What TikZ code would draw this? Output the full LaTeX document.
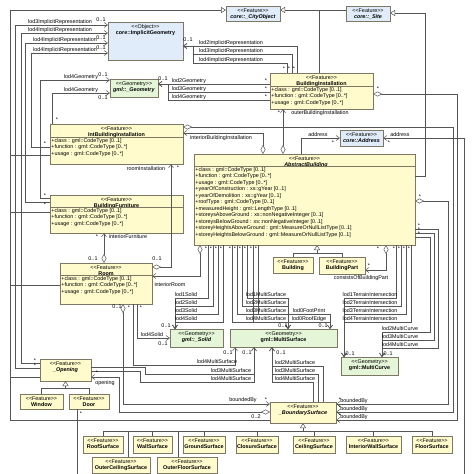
\documentclass[tikz,border=0pt]{standalone}
\usepackage{fontspec}
\setmainfont{Liberation Sans}
\usepackage{xcolor}
\usepackage{tikz}
\usetikzlibrary{arrows.meta}
\usetikzlibrary{calc}

\definecolor{featfill}{RGB}{255,251,204}
\definecolor{objfill}{RGB}{224,236,250}
\definecolor{geomfill}{RGB}{229,245,216}
\definecolor{boxline}{RGB}{125,120,100}
\definecolor{linecol}{RGB}{85,85,85}

\tikzset{
  classbox/.style={draw=boxline,line width=0.5pt,anchor=north west,inner sep=0pt,outer sep=0pt},
  txt/.style={inner sep=0pt,font=\fontsize{5.4}{6.5}\selectfont},
  conn/.style={draw=linecol,line width=0.5pt},
  nav/.style={conn,-{Straight Barb[length=3.5pt,width=5pt]}},
  gen/.style={conn,-{Triangle[open,length=5pt,width=6pt,fill=white]}},
  agg/.style={conn,{Diamond[open,length=9pt,width=5pt,fill=white]}-{Straight Barb[length=3.5pt,width=5pt]}}
}

\newcommand\stereo[1]{<{}<#1>{}>}
\newcommand\stdattr{+class : gml::CodeType [0..1]\\+function : gml::CodeType [0..*]\\+usage : gml::CodeType [0..*]}
\newcommand\umlclass[8]{%
  \node[classbox,fill=#6,minimum width={(#4-#2)*1pt},minimum height={(#5-#3)*1pt}] (#1) at (#2,#3) {};
  \node[txt] (#1-s) at ([yshift=-4.8pt]#1.north) {\stereo{#7}};
  \node[txt] (#1-n) at ([yshift=-10.8pt]#1.north) {#8};}
\newcommand\umlattr[3]{%
  \draw[boxline,line width=0.5pt] (#1.west |- 0,#2) -- (#1.east |- 0,#2);
  \node[txt,anchor=north west,align=left,xshift=1.2pt,yshift=-1.3pt] (#1-a) at (#1.west |- 0,#2) {#3};}

\begin{document}
\begin{tikzpicture}[x=1pt,y=-1pt]
\useasboundingbox (0,0) rectangle (474,474);

\umlclass{igeom}{108}{22}{183}{60}{objfill}{Object}{\textbf{core::ImplicitGeometry}}
\umlclass{cityobj}{226}{6}{280}{21}{objfill}{Feature}{\textbf{\textit{core::\_CityObject}}}
\umlclass{site}{346}{6}{390}{21}{objfill}{Feature}{\textbf{\textit{core::\_Site}}}
\umlclass{geom}{110}{79}{158}{97}{geomfill}{Geometry}{\textbf{\textit{gml::\_Geometry}}}
\umlclass{binst}{270}{73}{373}{109}{featfill}{Feature}{\textbf{BuildingInstallation}}
\umlattr{binst}{86}{\stdattr}
\umlclass{ibinst}{50}{124}{183}{164}{featfill}{Feature}{\textbf{IntBuildingInstallation}}
\umlattr{ibinst}{137}{\stdattr}
\umlclass{addr}{340}{130}{383}{146}{objfill}{Feature}{\textbf{\textit{core::Address}}}
\umlclass{abld}{194}{154}{415}{245}{featfill}{Feature}{\textbf{\textit{\_AbstractBuilding}}}
\umlattr{abld}{166}{\stdattr\\+yearOfConstruction : xs::gYear [0..1]\\+yearOfDemolition : xs::gYear [0..1]\\+roofType : gml::CodeType [0..1]\\+measuredHeight : gml::LengthType [0..1]\\+storeysAboveGround : xs::nonNegativeInteger [0..1]\\+storeysBelowGround : xs::nonNegativeInteger [0..1]\\+storeyHeightsAboveGround : gml::MeasureOrNullListType [0..1]\\+storeyHeightsBelowGround : gml::MeasureOrNullListType [0..1]}
\umlclass{furn}{50}{195}{183}{233}{featfill}{Feature}{\textbf{BuildingFurniture}}
\umlattr{furn}{207}{\stdattr}
\umlclass{room}{60}{263}{152}{304}{featfill}{Feature}{\textbf{Room}}
\umlattr{room}{275}{\stdattr}
\umlclass{bldg}{273}{257}{313}{273}{featfill}{Feature}{\textbf{Building}}
\umlclass{bpart}{319}{257}{365}{274}{featfill}{Feature}{\textbf{BuildingPart}}
\umlclass{solid}{170}{329}{223}{347}{geomfill}{Geometry}{\textbf{\textit{gml::\_Solid}}}
\umlclass{msurf}{230}{329}{337}{347}{geomfill}{Geometry}{\textbf{gml::MultiSurface}}
\umlclass{mcurve}{341}{357}{398}{375}{geomfill}{Geometry}{\textbf{gml::MultiCurve}}
\umlclass{open}{40}{359}{91}{381}{featfill}{Feature}{\textbf{\textit{\_Opening}}}
\umlclass{window}{20}{394}{63}{409}{featfill}{Feature}{\textbf{Window}}
\umlclass{door}{69}{394}{109}{409}{featfill}{Feature}{\textbf{Door}}
\umlclass{bsurf}{270}{402}{336}{423}{featfill}{Feature}{\textbf{\textit{\_BoundarySurface}}}
\foreach \n/\a/\b/\c/\d/\s in {roof/83/436/123/453/RoofSurface,wall/133/436/172/453/WallSurface,
  ground/183/436/225/453/GroundSurface,closure/236/436/278/453/ClosureSurface,
  ceiling/293/436/335/453/CeilingSurface,intwall/346/436/401/453/InteriorWallSurface,
  floor/412/436/452/453/FloorSurface,outceil/92/457/150/473/OuterCeilingSurface,
  outfloor/157/457/217/473/OuterFloorSurface}
  {\umlclass{\n}{\a}{\b}{\c}{\d}{featfill}{Feature}{\textbf{\s}}}

\draw[gen] (bsurf.west |- 0,420) -| (10,10) -- (cityobj.west |- 0,10);
\foreach \n/\y in {ibinst/155,furn/212,room/285,open/377}
  \draw[conn] (\n.west |- 0,\y) -- (10,\y);
\draw[gen] (site.west |- 0,10) -- (cityobj.east |- 0,10);
\draw[conn] (binst.north -| 319,0) -- (319,10);
\draw[gen] (abld.east |- 0,176) -| (425,13) -- (site.east |- 0,13);
\draw[gen] (bldg.north) |- (317,253) -- (abld.south -| 317,0);
\draw[conn] (bpart.north) |- (317,253);
\draw[gen] (window.north) |- (65.5,388) -- (open.south);
\draw[conn] (door.north) |- (65.5,388);
\draw[gen] (bsurf.south |- 0,431) -- (bsurf.south);
\draw[conn] (roof.north |- 0,431) -- (floor.north |- 0,431);
\foreach \n in {roof,wall,ground,closure,ceiling,intwall,floor}
  \draw[conn] (\n.north) -- (\n.north |- 0,431);
\draw[conn] (outceil.north -| 128,0) -- (128,431);
\draw[conn] (outfloor.north -| 178,0) -- (178,431);

\draw[nav] (open.west |- 0,368) -| (15,25) -- (igeom.west |- 0,25);
\draw[nav] (open.west |- 0,363) -| (21,33) -- (igeom.west |- 0,33);
\draw[nav] (furn.west |- 0,202) -| (25,43) -- (igeom.west |- 0,43);
\draw[nav] (ibinst.west |- 0,147) -| (31,53) -- (igeom.west |- 0,53);
\draw[nav] (furn.west |- 0,198) -| (40,80) -- (geom.west |- 0,80);
\draw[nav] (ibinst.north -| 52,0) |- (geom.west |- 0,93);
\draw[nav] (binst.west |- 0,84) -- (geom.east |- 0,84);
\draw[nav] (binst.west |- 0,92) -| (168,84) -- (geom.east |- 0,84);
\draw[nav] (binst.west |- 0,100) -| (168,84) -- (geom.east |- 0,84);
\draw[nav] (binst.north -| 297,0) |- (igeom.east |- 0,46);
\draw[nav] (binst.north -| 292,0) |- (193,54) |- (igeom.east |- 0,46);
\draw[nav] (binst.north -| 287,0) |- (193,63) |- (igeom.east |- 0,46);

\draw[agg] (abld.north -| 263,0) |- (ibinst.east |- 0,133);
\draw[agg] (abld.north -| 283,0) -- (binst.south -| 283,0);
\draw[agg] (ibinst.east |- 0,127) -| (453,412) -- (bsurf.east |- 0,412);
\draw[agg] (binst.east |- 0,94) -| (457,420) -- (bsurf.east |- 0,420);
\draw[agg] (abld.east |- 0,201) -| (448,404) -- (bsurf.east |- 0,404);
\draw[nav] (abld.north -| 301,0) |- (addr.west |- 0,138);
\draw[nav] (door.south -| 77,0) -- (77,478) -| (464,138) -- (addr.east |- 0,138);
\draw[agg] (abld.south -| 386,0) |- (bpart.east |- 0,270);
\draw[agg] (abld.south -| 200,0) |- (room.east |- 0,276);
\draw[agg] (room.east |- 0,267) -| (ibinst.south -| 171,0);
\draw[agg] (room.north -| 104,0) -- (furn.south -| 104,0);
\draw[agg] (room.south -| 123,0) |- (bsurf.west |- 0,404);
\draw[agg] (bsurf.west |- 0,412) -| (119,377) -- (open.east |- 0,377);

\foreach \x/\y in {208/298,213/306,218/314,223/322}
  \draw[nav] (abld.south -| \x,0) |- (175,\y) -- (solid.north -| 175,0);
\foreach \x/\y in {247/298,242/306,237/314,232/322}
  \draw[nav] (abld.south -| \x,0) |- (288,\y) -- (msurf.north -| 288,0);
\foreach \x/\y in {258/314,253/322}
  \draw[nav] (abld.south -| \x,0) |- (330,\y) -- (msurf.north -| 330,0);
\foreach \x/\y in {396/298,401/306,406/314,411/322}
  \draw[nav] (abld.south -| \x,0) |- (344,\y) -- (mcurve.north -| 344,0);
\draw[nav] (abld.east |- 0,237) -| (430,332) -| (mcurve.north -| 382,0);
\draw[nav] (abld.east |- 0,233) -| (434,340) -| (mcurve.north -| 382,0);
\draw[nav] (abld.east |- 0,229) -| (438,348) -| (mcurve.north -| 382,0);
\foreach \x/\y in {323/366,318/374,313/382}
  \draw[nav] (bsurf.north -| \x,0) |- (272,\y) -- (msurf.south -| 272,0);
\draw[nav] (open.east |- 0,367) -| (145,374) -| (msurf.south -| 254,0);
\draw[nav] (open.east |- 0,371) -| (140,382) -| (msurf.south -| 254,0);
\draw[nav] (room.south -| 133,0) |- (235,365) -- (msurf.south -| 235,0);
\draw[nav] (room.south -| 137,0) |- (solid.west |- 0,338);

\foreach \x/\y/\s [count=\i] in {60/22/lod3ImplicitRepresentation,60/30/lod4ImplicitRepresentation,
  65/40/lod4ImplicitRepresentation,65/50/lod4ImplicitRepresentation,81/77/lod4Geometry,81/90/lod4Geometry,
  231/43/lod2ImplicitRepresentation,231/51/lod3ImplicitRepresentation,231/60/lod4ImplicitRepresentation,
  189/81/lod2Geometry,189/89/lod3Geometry,189/97/lod4Geometry,
  320/113/outerBuildingInstallation,221/138/interiorBuildingInstallation,318/135/address,400/135/address,
  146/169/roomInstallation,128/237/interiorFurniture,170/285/interiorRoom,361/278/consistsOfBuildingPart,
  186/295/lod1Solid,186/303/lod2Solid,186/311/lod3Solid,186/319/lod4Solid,
  266/295/lod1MultiSurface,266/303/lod2MultiSurface,266/311/lod3MultiSurface,266/319/lod4MultiSurface,
  309/311/lod0FootPrint,309/319/lod0RoofEdge,
  370/295/lod1TerrainIntersection,370/303/lod2TerrainIntersection,370/311/lod3TerrainIntersection,370/319/lod4TerrainIntersection,
  152/335/lod4Solid,217/362/lod4MultiSurface,231/371/lod3MultiSurface,231/379/lod4MultiSurface,
  295/363/lod2MultiSurface,295/371/lod3MultiSurface,295/379/lod4MultiSurface,
  400/329/lod2MultiCurve,400/337/lod3MultiCurve,400/345/lod4MultiCurve,
  243/400/boundedBy,354/401/boundedBy,354/409/boundedBy,354/417/boundedBy,105/383/opening}
  \node[txt] (lab\i) at (\x,\y) {\s};

\foreach \x/\y/\s [count=\i] in {101/20/0..1,101/38/0..1,101/48/0..1,103/75/0..1,103/98/0..1,163/79/0..1,188/40/0..1,
  284/69/*,289/69/*,294/69/*,266/81/*,266/89/*,266/97/*,45/144/*,57/120/*,45/196/*,45/205/*,35/361/*,35/366/*,
  279/113/*,378/89/*,420/197/*,419/226/*,419/230/*,419/234/*,333/143/*,389/143/*,178/168/*,157/259/0..1,
  97/237/*,93/259/0..1,117/307/0..1,129/308/*,141/308/*,163/344/0..1,166/326/0..1,283/326/0..1,323/326/0..1,
  228/353/0..1,247/353/0..1,281/353/0..1,350/354/0..1,388/354/0..1,266/400/*,256/417/0..2,
  340/400/*,340/408/*,340/416/*,97/373/*,81/414/*,378/249/*,369/266/*}
  \node[txt] (m\i) at (\x,\y) {\s};
\foreach \x [count=\i] in {206,211,216,221,230,235,240,245,251,256,394,399,404,409}
  \node[txt] (st\i) at (\x,249) {*};

\end{tikzpicture}
\end{document}
